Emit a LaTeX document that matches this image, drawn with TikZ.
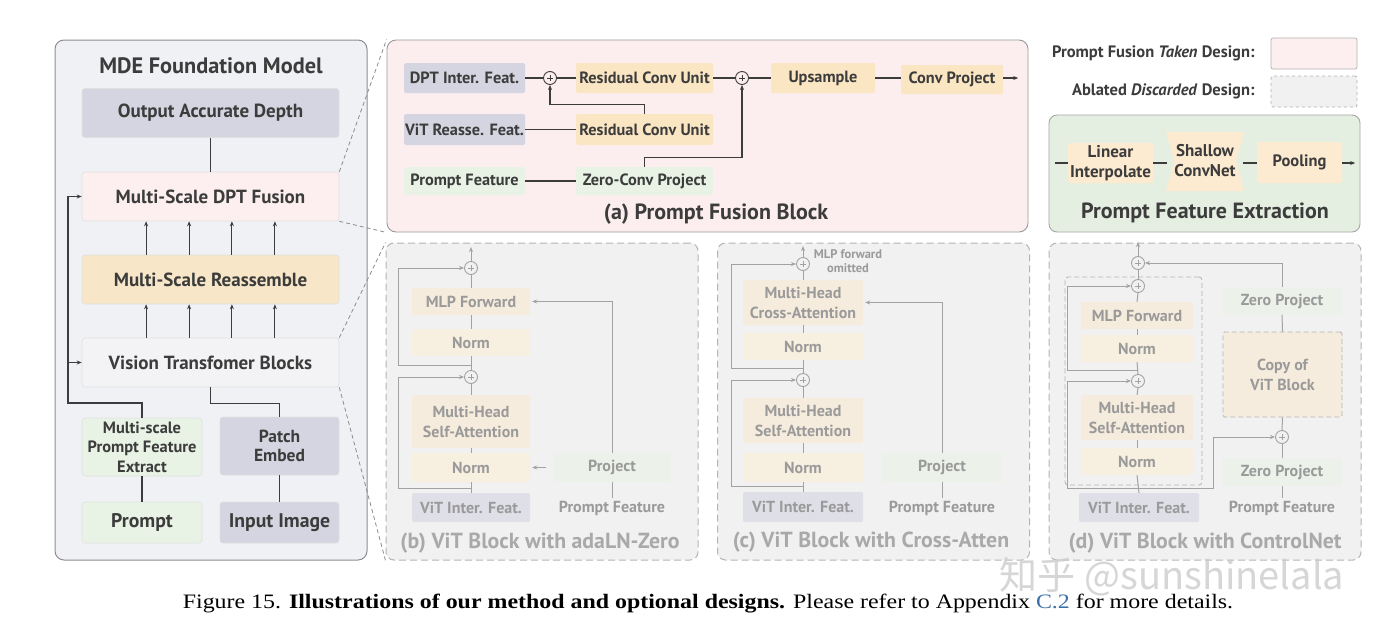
\documentclass[tikz,border=0pt]{standalone}
\usepackage{fontspec}
\setmainfont{Liberation Serif}
\newfontfamily\msbf{PT Sans}
\newcommand{\msb}{\msbf\bfseries}
\newfontfamily\cjkwm{Noto Sans CJK SC}
\usetikzlibrary{arrows.meta,calc}
\definecolor{txt}{HTML}{3C3C3C}
\definecolor{lpfill}{HTML}{F0F1F5}
\definecolor{lpborder}{HTML}{8E8E92}
\definecolor{slate}{HTML}{D4D5E0}
\definecolor{pinkf}{HTML}{FDEFEF}
\definecolor{panA}{HTML}{FCEEEE}
\definecolor{beige}{HTML}{F7E6C7}
\definecolor{beigeA}{HTML}{FBE6C4}
\definecolor{vitgray}{HTML}{F3F3F5}
\definecolor{greenf}{HTML}{E8F3E5}
\definecolor{greenpan}{HTML}{E4EFE1}
\definecolor{fadebg}{HTML}{F1F1F1}
\definecolor{fadebd}{HTML}{B4B4B4}
\definecolor{fadetxt}{HTML}{9A9A9A}
\definecolor{fadeln}{HTML}{A2A2A2}
\definecolor{fadeor}{HTML}{F6ECDD}
\definecolor{fadenorm}{HTML}{F7F0E1}
\definecolor{fadeslate}{HTML}{DFE0E7}
\definecolor{fadegreen}{HTML}{ECF2EA}
\definecolor{linkblue}{HTML}{3B6FA8}
\tikzset{
  ln/.style={draw=txt, line width=1.1pt},
  arr/.style={ln, -{Stealth[length=5pt,width=4pt]}},
  fln/.style={draw=fadeln, line width=1pt},
  farr/.style={fln, -{Stealth[length=5pt,width=4pt]}},
  bigbox/.style={rounded corners=3pt, draw=black!12, line width=0.6pt, minimum width=257pt, minimum height=49pt, font=\msb\fontsize{19}{21}\selectfont, text=txt, inner sep=0pt},
  smallbox/.style={rounded corners=3pt, draw=black!12, line width=0.6pt, font=\msb\fontsize{17.5}{19}\selectfont, text=txt, align=center, inner sep=0pt},
  abox/.style={rounded corners=1.5pt, minimum height=30pt, font=\msb\fontsize{16.3}{18}\selectfont, text=txt, inner sep=0pt},
  fbox/.style={rounded corners=1.5pt, minimum width=118pt, font=\msb\fontsize{16}{20}\selectfont, text=fadetxt, inner sep=0pt, align=center},
  oplusn/.style={circle, draw=#1, line width=0.9pt, minimum size=13pt, inner sep=0pt,
    path picture={\draw[#1, line width=0.8pt] ([yshift=-3.5pt]path picture bounding box.north) -- ([yshift=3.5pt]path picture bounding box.south) ([xshift=3.5pt]path picture bounding box.west) -- ([xshift=-3.5pt]path picture bounding box.east);}},
  panelT/.style={font=\msb\fontsize{22}{24}\selectfont, text=txt},
  fpanelT/.style={font=\msb\fontsize{21.8}{24}\selectfont, text=fadetxt!85},
  fpanel/.style={rounded corners=8pt, draw=fadebd, dashed, dash pattern=on 7pt off 4pt, line width=1pt, fill=fadebg, minimum width=312pt, minimum height=317pt},
  zoomline/.style={draw=black!45, dashed, dash pattern=on 4pt off 3pt, line width=0.8pt},
}
\begin{document}
\begin{tikzpicture}[x=1pt,y=-1pt]
\useasboundingbox[fill=white] (0,0) rectangle (1396,638);

% ---------------- left panel ----------------
\node[rounded corners=9pt, fill=lpfill, draw=lpborder, line width=1pt, minimum width=312pt, minimum height=520pt] (lp) at (211,300) {};
\node[font=\msb\fontsize{22.3}{24}\selectfont, text=txt] (mdet) at (211,66) {MDE Foundation Model};
\node[bigbox, fill=slate] (out) at (210.5,113) {Output Accurate Depth};
\node[bigbox, fill=pinkf] (dpt) at (210.5,196.5) {Multi-Scale DPT Fusion};
\node[bigbox, fill=beige] (reas) at (210.5,279.5) {Multi-Scale Reassemble};
\node[bigbox, fill=vitgray] (vit) at (210.5,362.5) {Vision Transfomer Blocks};
\node[smallbox, fill=greenf, minimum width=120pt, minimum height=58pt, font=\msb\fontsize{16.4}{19.5}\selectfont] (ext) at (142,447) {Multi-scale\\Prompt Feature\\Extract};
\node[smallbox, fill=slate, minimum width=119pt, minimum height=58pt, font=\msb\fontsize{17.5}{19.5}\selectfont] (patch) at (279.5,446) {Patch\\Embed};
\node[smallbox, fill=greenf, minimum width=120pt, minimum height=41pt, font=\msb\fontsize{19.7}{21}\selectfont] (prm) at (142,522.5) {Prompt};
\node[smallbox, fill=slate, minimum width=119pt, minimum height=41pt, font=\msb\fontsize{19.7}{21}\selectfont] (inimg) at (279.5,522.5) {Input Image};

\draw[ln] (out.south) -- (dpt.north);
\foreach \f in {0.25,0.417,0.583,0.75}{
  \draw[arr] ($(reas.north west)!\f!(reas.north east)$) -- ($(dpt.south west)!\f!(dpt.south east)$);
  \draw[arr] ($(vit.north west)!\f!(vit.north east)$) -- ($(reas.south west)!\f!(reas.south east)$);
}
\draw[ln] (vit.south) -- ++(0,16) -| (patch.north);
\draw[ln] (patch.south) -- (inimg.north);
\draw[ln] (prm.north) -- (ext.south);
\coordinate (lbus) at (68,403);
\draw[arr] (ext.north) |- (lbus) |- (dpt.west);
\draw[arr] (lbus |- vit.west) -- (vit.west);

% ---------------- panel (a) ----------------
\node[rounded corners=9pt, fill=panA, draw=black!40, line width=0.9pt, minimum width=641pt, minimum height=192pt] (pa) at (707.5,136) {};
\node[abox, fill=slate, minimum width=121pt] (a1) at (464.5,78) {DPT Inter. Feat.};
\node[oplusn=txt] (ap1) at (550,78) {};
\node[abox, fill=beigeA, minimum width=137pt] (a2) at (644.5,78) {Residual Conv Unit};
\node[oplusn=txt] (ap2) at (742,78) {};
\node[abox, fill=beigeA, minimum width=104pt] (a3) at (823,78) {Upsample};
\node[abox, fill=beigeA, minimum width=102pt, minimum height=29pt] (a4) at (952,79.5) {Conv Project};
\node[abox, fill=slate, minimum width=121pt, minimum height=31pt] (b1) at (464.5,129.5) {ViT Reasse. Feat.};
\node[abox, fill=beigeA, minimum width=137pt, minimum height=31pt] (b2) at (644.5,129.5) {Residual Conv Unit};
\node[abox, fill=greenf, minimum width=121pt, minimum height=28pt] (c1) at (464.5,181) {Prompt Feature};
\node[abox, fill=greenf, minimum width=137pt, minimum height=28pt] (c2) at (644.5,181) {Zero-Conv Project};
\node[panelT] (aT) at (716,214) {(a) Prompt Fusion Block};
\draw[ln] (a1.east) -- (ap1.west);
\draw[ln] (ap1.east) -- (a2.west);
\draw[ln] (a2.east) -- (ap2.west);
\draw[ln] (ap2.east) -- (a3.west);
\draw[ln] (a3.east) -- (a3.east -| a4.west);
\draw[arr] (a4.east |- a3.east) -- ++(15,0);
\draw[ln] (b1.east) -- (b2.west);
\draw[ln] (c1.east) -- (c2.west);
\draw[arr] (b2.north) -- ++(0,-9) -| (ap1.south);
\draw[arr] (c2.north) -- ++(0,-9) -| (ap2.south);

% zoom lines
\draw[zoomline] (dpt.north east) -- (pa.north west);
\draw[zoomline] (dpt.south east) -- (pa.south west);

% ---------------- legend ----------------
\node[anchor=east, font=\msb\fontsize{16.5}{18}\selectfont, text=txt] (lg1) at (1258,53) {Prompt Fusion \textit{Taken} Design:};
\node[anchor=east, font=\msb\fontsize{16.5}{18}\selectfont, text=txt] (lg2) at (1258,91) {Ablated \textit{Discarded} Design:};
\node[rounded corners=2pt, fill=pinkf, draw=black!30, line width=0.7pt, minimum width=86pt, minimum height=31pt] (lgb1) at (1314,53.5) {};
\node[rounded corners=2pt, fill=fadebg, draw=fadebd, dashed, line width=0.8pt, minimum width=86pt, minimum height=31pt] (lgb2) at (1314,91.5) {};

% ---------------- prompt feature extraction ----------------
\node[rounded corners=8pt, fill=greenpan, draw=black!35, line width=0.9pt, minimum width=311pt, minimum height=117pt] (pe) at (1204.5,173.5) {};
\node[abox, fill=beigeA!80, minimum width=85pt, minimum height=40pt, align=center, font=\msb\fontsize{17}{20}\selectfont] (li) at (1110.5,163) {Linear\\Interpolate};
\fill[beigeA!80] (1166,132) -- (1244,132) -- (1236,161) -- (1244,191) -- (1166,191) -- (1174,161) -- cycle;
\node[inner sep=0pt, minimum width=66pt, minimum height=50pt, align=center, font=\msb\fontsize{17}{20}\selectfont, text=txt] (sc) at (1205,161) {Shallow\\ConvNet};
\node[abox, fill=beigeA!80, minimum width=85pt, minimum height=41pt, font=\msb\fontsize{16.5}{18}\selectfont] (pool) at (1299.5,162.5) {Pooling};
\coordinate (pein) at (1055,163);
\draw[ln] (pein) -- (li.west);
\draw[ln] (li.east) -- ([xshift=-5pt]sc.west |- li.east);
\draw[ln] ([xshift=5pt]sc.east |- li.east) -- (pool.west |- li.east);
\draw[arr] (pool.east |- li.east) -- ++(13,0);
\node[font=\msb\fontsize{22}{24}\selectfont, text=txt] (peT) at (1205,213) {Prompt Feature Extraction};

% ---------------- panel (b) ----------------
\node[fpanel] (pb) at (542,401.5) {};
\draw[zoomline] (vit.north east) -- (pb.north west);
\draw[zoomline] (vit.south east) -- (pb.south west);
\node[oplusn=fadeln] (bp1) at (471,268) {};
\node[fbox, fill=fadeor, minimum height=27pt] (bmlp) at (471,301.5) {MLP Forward};
\node[fbox, fill=fadenorm, minimum height=27pt] (bn1) at (471,342.5) {Norm};
\node[oplusn=fadeln] (bp2) at (471,377) {};
\node[fbox, fill=fadeor, minimum height=53pt] (bmh) at (471,421.5) {Multi-Head\\Self-Attention};
\node[fbox, fill=fadenorm, minimum height=29pt] (bn2) at (471,467.5) {Norm};
\node[fbox, fill=fadeslate, minimum height=29pt] (bvit) at (471,507.5) {ViT Inter. Feat.};
\node[fbox, fill=fadegreen, minimum width=117pt, minimum height=29pt] (bpj) at (612,467.5) {Project};
\node[fbox, minimum width=117pt, minimum height=20pt] (bpf) at (612,508) {Prompt Feature};
\node[fpanelT] (bT) at (540,543) {(b) ViT Block with adaLN-Zero};
\draw[fln] (bvit.north) -- (bn2.south);
\draw[fln] (bn2.north) -- (bmh.south);
\draw[fln] (bmh.north) -- (bp2.south);
\draw[fln] (bp2.north) -- (bn1.south);
\draw[fln] (bn1.north) -- (bmlp.south);
\draw[fln] (bmlp.north) -- (bp1.south);
\draw[farr] (bp1.north) -- ++(0,-14);
\coordinate (bl1) at (471,488);
\coordinate (bl2) at (471,365);
\draw[farr] (bl1) -- ++(-73,0) |- (bp2.west);
\draw[farr] (bl2) -- ++(-73,0) |- (bp1.west);
\draw[farr] ([xshift=-7pt]bpj.west) -- ([xshift=2pt]bn2.east);
\draw[farr] (bpj.north) |- ([xshift=2pt]bmlp.east);
\draw[fln] (bpf.north) -- (bpj.south);

% ---------------- panel (c) ----------------
\node[fpanel] (pc) at (873.5,401.5) {};
\node[oplusn=fadeln] (cp1) at (803,264) {};
\node[fbox, fill=fadeor, minimum width=120pt, minimum height=45pt] (cmc) at (803,302.5) {Multi-Head\\Cross-Attention};
\node[fbox, fill=fadenorm, minimum width=120pt, minimum height=27pt] (cn1) at (803,346.5) {Norm};
\node[oplusn=fadeln] (cp2) at (803,380) {};
\node[fbox, fill=fadeor, minimum width=120pt, minimum height=45pt] (cmh) at (803,420.5) {Multi-Head\\Self-Attention};
\node[fbox, fill=fadenorm, minimum width=120pt, minimum height=29pt] (cn2) at (803,467.5) {Norm};
\node[fbox, fill=fadeslate, minimum width=120pt, minimum height=30pt] (cvit) at (803,507) {ViT Inter. Feat.};
\node[fbox, fill=fadegreen, minimum width=120pt, minimum height=29pt] (cpj) at (942,467.5) {Project};
\node[fbox, minimum width=120pt, minimum height=20pt] (cpf) at (942,508) {Prompt Feature};
\node[font=\msb\fontsize{12.5}{14}\selectfont, text=fadetxt, align=center, inner sep=0pt] (cmlp) at (848,261) {MLP forward\\omitted};
\node[fpanelT] (cT) at (871,542) {(c) ViT Block with Cross-Atten};
\draw[fln] (cvit.north) -- (cn2.south);
\draw[fln] (cn2.north) -- (cmh.south);
\draw[fln] (cmh.north) -- (cp2.south);
\draw[fln] (cp2.north) -- (cn1.south);
\draw[fln] (cn1.north) -- (cmc.south);
\draw[fln] (cmc.north) -- (cp1.south);
\draw[farr] (cp1.north) -- ++(0,-11);
\coordinate (cl1) at (803,486);
\coordinate (cl2) at (803,368);
\draw[farr] (cl1) -- ++(-72,0) |- (cp2.west);
\draw[farr] (cl2) -- ++(-72,0) |- (cp1.west);
\draw[farr] (cpj.north) |- ([xshift=2pt]cmc.east);
\draw[fln] (cpf.north) -- (cpj.south);

% ---------------- panel (d) ----------------
\node[fpanel] (pd) at (1205,401.5) {};
\node[rounded corners=3pt, draw=fadebd, dashed, dash pattern=on 5pt off 3pt, line width=0.8pt, minimum width=137pt, minimum height=208pt] (dblk) at (1133.5,381) {};
\node[oplusn=fadeln] (dp1) at (1138,263) {};
\node[oplusn=fadeln] (dp2) at (1138,286) {};
\node[fbox, fill=fadeor, minimum width=112pt, minimum height=27pt] (dmlp) at (1137,315.5) {MLP Forward};
\node[fbox, fill=fadenorm, minimum width=112pt, minimum height=27pt] (dn1) at (1137,348.5) {Norm};
\node[oplusn=fadeln] (dp3) at (1138,381) {};
\node[fbox, fill=fadeor, minimum width=112pt, minimum height=45pt] (dmh) at (1137,417.5) {Multi-Head\\Self-Attention};
\node[fbox, fill=fadenorm, minimum width=112pt, minimum height=27pt] (dn2) at (1137,461.5) {Norm};
\node[fbox, fill=fadeslate, minimum width=120pt, minimum height=29pt] (dvit) at (1139,507.5) {ViT Inter. Feat.};
\node[fbox, fill=fadegreen, minimum width=120pt, minimum height=27pt] (dz1) at (1282,301) {Zero Project};
\node[fbox, fill=fadeor, draw=fadebd, dashed, dash pattern=on 5pt off 3pt, line width=0.8pt, minimum width=119pt, minimum height=85pt] (dcp) at (1282.5,374.5) {Copy of\\ViT Block};
\node[oplusn=fadeln] (dp4) at (1282,437) {};
\node[fbox, fill=fadegreen, minimum width=120pt, minimum height=27pt] (dz2) at (1282,472) {Zero Project};
\node[fbox, minimum width=120pt, minimum height=20pt] (dpf) at (1282,508) {Prompt Feature};
\node[fpanelT] (dT) at (1205,543) {(d) ViT Block with ControlNet};
\draw[fln] (dvit.north) -- (dn2.south);
\draw[fln] (dn2.north) -- (dmh.south);
\draw[fln] (dmh.north) -- (dp3.south);
\draw[fln] (dp3.north) -- (dn1.south);
\draw[fln] (dn1.north) -- (dmlp.south);
\draw[fln] (dmlp.north) -- (dp2.south);
\draw[fln] (dp2.north) -- (dp1.south);
\draw[farr] (dp1.north) -- ++(0,-14);
\coordinate (dl1) at (1138,488);
\coordinate (dl2) at (1138,370);
\draw[farr] (dl1) -- ++(-71,0) |- (dp3.west);
\draw[farr] (dl2) -- ++(-71,0) |- (dp2.west);
\draw[farr] (dl1) -- ++(75,0) |- (dp4.west);
\draw[fln] (dpf.north) -- (dz2.south);
\draw[fln] (dz2.north) -- (dp4.south);
\draw[fln] (dp4.north) -- (dcp.south);
\draw[fln] (dcp.north) -- (dz1.south);
\draw[farr] (dz1.north) |- (dp1.east);

% ---------------- caption & watermark ----------------
\node[font=\fontsize{20.5}{23}\selectfont, text=black, inner sep=0pt] (cap) at (708,604) {\scalebox{1.166}[1]{Figure 15. \textbf{Illustrations of our method and optional designs.} Please refer to Appendix \textcolor{linkblue}{C.2} for more details.}};
\node[font=\cjkwm\fontsize{38}{40}\selectfont, text=black!20, opacity=0.8, inner sep=0pt] (wm) at (1172,577) {知乎 @sunshinelala};
\end{tikzpicture}
\end{document}
